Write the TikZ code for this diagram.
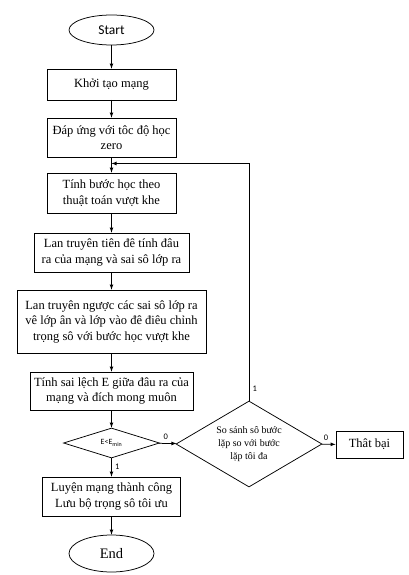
\documentclass[tikz,border=0pt]{standalone}
\usepackage{fontspec}
\setmainfont{Liberation Serif}
\newfontfamily\labelfont{Carlito}
\usetikzlibrary{shapes.geometric, calc}

\begin{document}
\begin{tikzpicture}
		[x=1pt,y=-1pt,line cap=round,>=latex,
		%Styles
		every node/.style={font=\fontsize{12.5}{15.5}\selectfont},
		process/.style={draw,line width=.75pt,align=center,inner sep=2pt},
		terminal/.style={draw,ellipse,line width=.75pt,minimum width=85pt},
		decision/.style={draw,diamond,line width=.75pt,inner sep=0pt,align=center},
		flow/.style={->,line width=.75pt},
		branch/.style={font=\labelfont\fontsize{8.5}{9}\selectfont}
		]
		
		%The graphic
		\useasboundingbox (0,0) rectangle (408,575);
		
		\node[terminal,minimum height=30pt,font=\labelfont\fontsize{13.5}{15}\selectfont] (start) at (111.5,30) {Start};
		\node[process,minimum width=129pt,minimum height=31pt] (init) at (111.5,84.5) {Khởi tạo mạng};
		\node[process,minimum width=129pt,minimum height=39pt] (zero) at (111.5,137.5) {Đáp ứng với tôc độ học\\zero};
		\node[process,minimum width=129pt,minimum height=40pt] (rate) at (111.5,193) {Tính bước học theo\\thuật toán vượt khe};
		\node[process,minimum width=155pt,minimum height=39pt] (forward) at (111.5,252.5) {Lan truyên tiên đê tính đâu\\ra của mạng và sai sô lớp ra};
		\node[process,minimum width=189pt,minimum height=63pt] (backward) at (111.5,321.5) {Lan truyên ngược các sai sô lớp ra\\vê lớp ân và lớp vào đê điêu chỉnh\\trọng sô với bước học vượt khe};
		\node[process,minimum width=163pt,minimum height=38pt] (error) at (111.5,391) {Tính sai lệch E giữa đâu ra của\\mạng và đích mong muôn};
		\node[decision,aspect=3.2,minimum width=96pt,minimum height=30pt,font=\labelfont\fontsize{8}{9}\selectfont] (test) at (111.5,443) {E<E\textsubscript{min}};
		\node[decision,aspect=1.7,minimum width=146pt,minimum height=86pt,font=\fontsize{10}{13}\selectfont] (count) at (249,444) {So sánh sô bước\\lặp so với bước\\lặp tôi đa};
		\node[process,minimum width=67pt,minimum height=27pt] (fail) at (369.5,444.5) {Thât bại};
		\node[process,minimum width=138pt,minimum height=39pt] (done) at (111.5,496.5) {Luyện mạng thành công\\Lưu bộ trọng sô tôi ưu};
		\node[terminal,minimum height=37pt,font=\fontsize{14.5}{16}\selectfont] (end) at (111.5,553.5) {End};
		
		\coordinate (loop) at ($(zero.south)!.4!(rate.north)$);
		
		\draw[flow] (start) -- (init);
		\draw[flow] (init) -- (zero);
		\draw[flow] (zero) -- (rate);
		\draw[flow] (rate) -- (forward);
		\draw[flow] (forward) -- (backward);
		\draw[flow] (backward) -- (error);
		\draw[flow] (error) -- (test);
		\draw[flow] (test) -- node[branch,above,pos=.4] {0} (count);
		\draw[flow] (count) -- node[branch,above,pos=.3] {0} (fail);
		\draw[flow] (test) -- node[branch,right,pos=.45] {1} (done);
		\draw[flow] (done) -- (end);
		\draw[flow] (count.north) -- node[branch,right,pos=.05] {1} (count.north |- loop) -- (loop);
	\end{tikzpicture}
\end{document}
